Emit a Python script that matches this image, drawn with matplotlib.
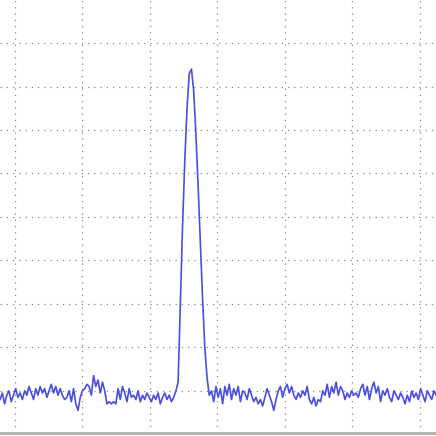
import matplotlib
matplotlib.use("Agg")
import matplotlib.pyplot as plt
import numpy as np

left_noise = [-0.2,-0.05,-0.3,-0.1,0.0,-0.25,-0.1,0.05,-0.15,-0.05,
              -0.2,0.0,-0.1,0.1,-0.05,-0.2,0.05,-0.1,0.1,-0.05,
              0.05,-0.15,0.0,0.15,-0.05,0.1,-0.1,0.05,-0.1,-0.2,
              -0.15,0.0,-0.25,0.05,-0.3,-0.45,-0.15,0.0,0.05,0.15,
              0.1,-0.1,0.35,0.1,0.25,-0.05,0.2,0.0,-0.3,-0.25,
              -0.3,-0.25,-0.3,0.05,-0.2,0.1,-0.05,-0.25,0.05,-0.15,
              -0.1,-0.2,0.0,-0.25,-0.1,-0.2,-0.05,-0.15,-0.25,-0.1,
              -0.2,-0.05,-0.3,-0.15,-0.05,-0.2,-0.1,-0.25,-0.15,0.0]
peak = [0.2,2.0,3.8,5.3,6.5,7.3,7.4,6.9,5.9,4.7,3.4,2.1,1.0,0.3,-0.1]
right_noise = [0.0,-0.25,0.1,-0.15,0.05,-0.3,0.1,-0.1,0.15,-0.2,
               0.05,-0.1,0.1,-0.25,0.0,-0.05,-0.2,0.05,-0.1,-0.25,
               -0.15,-0.3,-0.2,-0.35,-0.15,0.05,-0.1,-0.25,-0.45,-0.2,
               0.0,0.1,-0.15,0.05,0.15,-0.05,0.1,-0.1,-0.2,-0.05,
               -0.15,0.0,-0.1,0.1,-0.2,-0.3,-0.15,-0.35,-0.2,-0.25,
               0.0,-0.1,0.15,-0.15,0.1,-0.05,0.2,-0.1,0.1,0.0,
               -0.2,-0.05,-0.15,0.0,-0.1,-0.05,-0.15,0.05,0.15,-0.1,
               0.1,-0.2,0.05,0.2,-0.05,0.1,-0.25,0.0,-0.1,0.05,
               -0.15,-0.25,0.0,-0.1,-0.2,-0.05,-0.15,-0.3,-0.1,-0.25,
               0.0,-0.15,-0.05,-0.2,0.05,-0.1,-0.25,0.0,-0.1,-0.2,
               0.0,-0.1]
y = np.array(left_noise + peak + right_noise)
x = np.linspace(-0.22, 6.24, len(y))

fig = plt.figure(figsize=(4.36, 4.36), dpi=100)
ax = fig.add_axes([0, 3/436, 1, 433/436])
ax.plot(x, y, color="#4a4ee0", lw=1.2)
ax.set_xlim(-0.222, 6.237)
ax.set_ylim(-0.97, 8.99)
ax.set_xticks(np.arange(0, 7))
ax.set_yticks(np.arange(0, 9))
ax.grid(True, color="#888888", linestyle=(0, (1, 4)), lw=0.9)
ax.tick_params(length=0, labelbottom=False, labelleft=False)
for s in ["top", "left", "right"]:
    ax.spines[s].set_visible(False)
ax.spines["bottom"].set_color("#b0b0b0")
ax.spines["bottom"].set_linewidth(2)
fig.savefig("out.png", dpi=100)
